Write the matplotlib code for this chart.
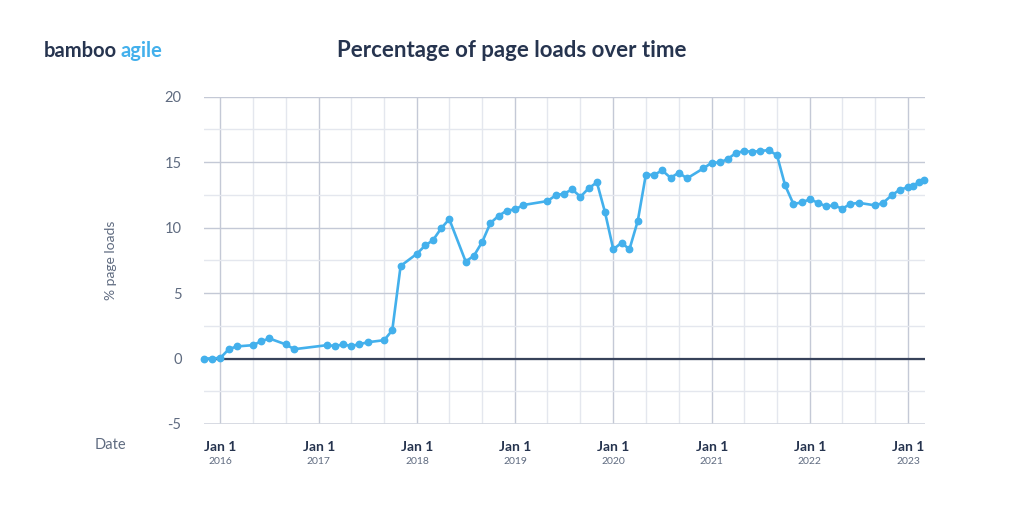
import pandas as pd
import matplotlib.pyplot as plt
import matplotlib.dates as mdates
from matplotlib.ticker import MultipleLocator

# 데이터
dates = [
    '2015-11-01', '2015-12-01', '2016-01-01', '2016-02-01', '2016-03-01',
    '2016-05-01', '2016-06-01', '2016-07-01', '2016-09-01', '2016-10-01',
    '2017-02-01', '2017-03-01', '2017-04-01', '2017-05-01', '2017-06-01',
    '2017-07-01', '2017-09-01', '2017-10-01', '2017-11-01',
    '2018-01-01', '2018-02-01', '2018-03-01', '2018-04-01', '2018-05-01',
    '2018-07-01', '2018-08-01', '2018-09-01', '2018-10-01', '2018-11-01',
    '2018-12-01',
    '2019-01-01', '2019-02-01', '2019-05-01', '2019-06-01', '2019-07-01',
    '2019-08-01', '2019-09-01', '2019-10-01', '2019-11-01', '2019-12-01',
    '2020-01-01', '2020-02-01', '2020-03-01', '2020-04-01', '2020-05-01',
    '2020-06-01', '2020-07-01', '2020-08-01', '2020-09-01', '2020-10-01',
    '2020-12-01',
    '2021-01-01', '2021-02-01', '2021-03-01', '2021-04-01', '2021-05-01',
    '2021-06-01', '2021-07-01', '2021-08-01', '2021-09-01', '2021-10-01',
    '2021-11-01', '2021-12-01',
    '2022-01-01', '2022-02-01', '2022-03-01', '2022-04-01', '2022-05-01',
    '2022-06-01', '2022-07-01', '2022-09-01', '2022-10-01', '2022-11-01',
    '2022-12-01',
    '2023-01-01', '2023-01-20', '2023-02-10', '2023-03-01',
]
page_loads = [
    0.0, 0.0, 0.05, 0.71, 0.92,
    1.02, 1.32, 1.53, 1.07, 0.71,
    1.02, 0.96, 1.07, 0.96, 1.09,
    1.24, 1.40, 2.16, 7.07,
    8.01, 8.65, 9.03, 9.95, 10.65,
    7.41, 7.86, 8.93, 10.35, 10.91,
    11.30,
    11.40, 11.73, 12.03, 12.47, 12.59,
    12.92, 12.36, 13.00, 13.46, 11.19,
    8.34, 8.85, 8.34, 10.51, 14.04,
    14.04, 14.37, 13.81, 14.20, 13.76,
    14.53,
    14.96, 14.98, 15.24, 15.70, 15.85,
    15.80, 15.85, 15.93, 15.52, 13.23,
    11.80, 11.93,
    12.16, 11.90, 11.63, 11.70, 11.45,
    11.80, 11.90, 11.70, 11.90, 12.47,
    12.88,
    13.10, 13.18, 13.50, 13.66,
]
years = [2016, 2017, 2018, 2019, 2020, 2021, 2022, 2023]

df = pd.DataFrame({'date': pd.to_datetime(dates), 'value': page_loads})

plt.rcParams['font.family'] = ['Lato', 'DejaVu Sans']
plt.rcParams['axes.unicode_minus'] = False

navy = '#26344f'
gray = '#5f6b80'
blue = '#43b0ec'

fig = plt.figure(figsize=(10.24, 5.12), dpi=100)
ax = fig.add_axes([0.199, 0.172, 0.704, 0.639])

# 그리드
ax.set_ylim(-5, 20)
ax.set_xlim(pd.Timestamp('2015-10-31'), pd.Timestamp('2023-03-04'))
ax.yaxis.set_major_locator(MultipleLocator(5))
ax.yaxis.set_minor_locator(MultipleLocator(2.5))
ax.xaxis.set_major_locator(mdates.YearLocator())
ax.xaxis.set_minor_locator(mdates.MonthLocator(bymonth=[5, 9]))
ax.grid(which='major', color='#c4c9d6', linewidth=1.0)
ax.grid(which='minor', color='#e4e7ee', linewidth=1.0)
ax.set_axisbelow(True)
for s in ax.spines.values():
    s.set_visible(False)
ax.axhline(-5, color='#d3d7e0', linewidth=1.2, zorder=1)
ax.axhline(0, color='#37425a', linewidth=1.6, zorder=2)

# 선
ax.plot(df['date'], df['value'], color=blue, linewidth=1.9,
        marker='o', markersize=4.6, zorder=3, clip_on=False)

# 축 라벨
ax.tick_params(which='both', length=0)
ax.tick_params(axis='y', pad=16, labelsize=10.5, labelcolor=gray)
ax.set_xticks([pd.Timestamp(f'{y}-01-01') for y in years])
ax.set_xticklabels(['Jan 1'] * len(years), fontsize=10,
                   fontweight='bold', color=navy)
ax.tick_params(axis='x', pad=12)
for y in years:
    ax.text(pd.Timestamp(f'{y}-01-01'), -0.115, str(y),
            transform=ax.get_xaxis_transform(), ha='center', va='center',
            fontsize=7.5, color=gray)

ax.set_ylabel('% page loads', fontsize=10, color=gray, labelpad=34)
fig.text(0.108, 0.131, 'Date', ha='center', va='center',
         fontsize=10.5, color=gray)

# 제목
fig.text(0.5, 0.902, 'Percentage of page loads over time', ha='center',
         va='center', fontsize=16, fontweight='bold', color=navy)

# 로고
logo = fig.text(0.043, 0.9, 'bamboo', ha='left', va='center',
                fontsize=14.5, fontweight='bold', color=navy)
fig.canvas.draw()
bb = logo.get_window_extent().transformed(fig.transFigure.inverted())
fig.text(bb.x1 + 0.003, 0.9, 'agile', ha='left', va='center',
         fontsize=14.5, fontweight='bold', color=blue)

plt.savefig('out.png', dpi=100, facecolor='white')
plt.close()
